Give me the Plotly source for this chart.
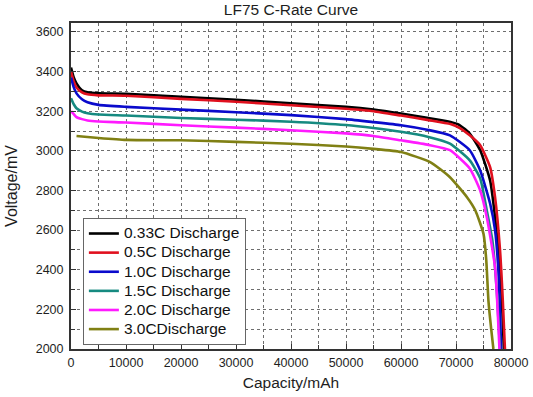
import plotly.graph_objects as go

# Capacity (mAh) / Voltage (mV)
cap_033 = [0, 500, 1000, 2000, 3000, 5000, 10000, 20000, 30000, 40000, 50000, 55000, 60000, 65000, 69000, 70700, 72500, 74400, 76200, 77100, 78000, 78500, 78700]
v_033 = [3420, 3370, 3340, 3305, 3295, 3290, 3288, 3273, 3258, 3240, 3222, 3208, 3188, 3165, 3145, 3129, 3087, 3003, 2850, 2665, 2400, 2150, 2000]

cap_05 = [0, 500, 1000, 2000, 3000, 5000, 10000, 20000, 30000, 40000, 50000, 55000, 60000, 65000, 69000, 70700, 72500, 74400, 76200, 77100, 78000, 78500, 78900]
v_05 = [3400, 3350, 3320, 3295, 3285, 3280, 3278, 3262, 3248, 3230, 3212, 3200, 3178, 3155, 3135, 3115, 3078, 3028, 2918, 2766, 2500, 2250, 2000]

cap_10 = [0, 500, 1000, 2000, 3000, 5000, 10000, 20000, 30000, 40000, 50000, 55000, 60000, 65000, 68900, 72500, 74400, 76200, 77100, 77700, 78000, 78200]
v_10 = [3370, 3320, 3290, 3260, 3245, 3232, 3222, 3208, 3195, 3180, 3160, 3145, 3129, 3105, 3078, 3003, 2901, 2734, 2600, 2400, 2200, 2000]

cap_15 = [0, 500, 1000, 2000, 3000, 5000, 10000, 20000, 30000, 40000, 50000, 55000, 60000, 65000, 68900, 72500, 74400, 75600, 76600, 77400, 78000]
v_15 = [3265, 3235, 3215, 3198, 3190, 3183, 3178, 3166, 3157, 3147, 3130, 3115, 3096, 3070, 3036, 2952, 2861, 2699, 2550, 2300, 2000]

cap_20 = [0, 500, 1000, 2000, 3000, 5000, 10000, 20000, 30000, 40000, 50000, 55000, 60000, 65000, 68900, 72500, 74400, 75600, 77100, 77900]
v_20 = [3200, 3185, 3170, 3160, 3153, 3148, 3143, 3129, 3117, 3104, 3088, 3075, 3053, 3030, 3003, 2911, 2800, 2665, 2412, 2000]

cap_30 = [1000, 5000, 10000, 20000, 30000, 40000, 50000, 55000, 60000, 65300, 68900, 72000, 73500, 75000, 75500, 75900, 76400, 76800]
v_30 = [3075, 3065, 3055, 3053, 3045, 3036, 3022, 3010, 2994, 2943, 2867, 2766, 2700, 2581, 2450, 2243, 2100, 2000]

series_names = ["0.33C Discharge", "0.5C Discharge", "1.0C Discharge", "1.5C Discharge", "2.0C Discharge", "3.0CDischarge"]
series_colors = ["#000000", "#e0101e", "#0a0acc", "#168a80", "#ff1aff", "#808014"]
x_ticks = [0, 10000, 20000, 30000, 40000, 50000, 60000, 70000, 80000]
y_ticks = [2000, 2200, 2400, 2600, 2800, 3000, 3200, 3400, 3600]

caps = [cap_033, cap_05, cap_10, cap_15, cap_20, cap_30]
volts = [v_033, v_05, v_10, v_15, v_20, v_30]

fig = go.Figure()
for c, v, n, col in zip(caps, volts, series_names, series_colors):
    fig.add_trace(go.Scatter(x=c, y=v, mode="lines",
                             name='<span style="font-size:15.5px">' + n + '</span>',
                             line=dict(color=col, width=2.6, shape="spline", smoothing=0.5)))

font_family = "Liberation Sans, Arial, sans-serif"
grid_col = "#6e6e6e"
text_col = "#1e1e1e"
fig.update_layout(
    width=533, height=397,
    margin=dict(l=71, r=22, t=23, b=48),
    paper_bgcolor="white", plot_bgcolor="white",
    font=dict(family=font_family, color=text_col, size=12.5),
    title=dict(text="LF75 C-Rate Curve", xref="paper", x=0.5, xanchor="center",
               yref="container", y=0.975, yanchor="middle",
               font=dict(size=15.5, color=text_col)),
    showlegend=True,
    legend=dict(x=0.027, y=0.402, xanchor="left", yanchor="top",
                bgcolor="white", bordercolor="#666666", borderwidth=1,
                font=dict(size=12.4, color="#111111"), tracegroupgap=0,
                itemwidth=30),
)
fig.update_xaxes(
    range=[0, 80000], tickvals=x_ticks, tickformat="d", automargin=False,
    title=dict(text="Capacity/mAh", font=dict(size=15.5), standoff=8),
    showline=True, linecolor="#333333", linewidth=2, mirror=True,
    ticks="inside", ticklen=5, tickcolor="#333333", ticklabelstandoff=1,
    showgrid=True, gridcolor=grid_col, griddash="dot", gridwidth=1,
    minor=dict(dtick=5000, tick0=0, showgrid=True, gridcolor=grid_col, griddash="dot", ticks="inside", ticklen=4),
    zeroline=False,
)
fig.update_yaxes(
    range=[2000, 3645], tickvals=y_ticks, tickformat="d", automargin=False,
    title=dict(text="Voltage/mV", font=dict(size=16), standoff=14),
    showline=True, linecolor="#333333", linewidth=2, mirror=True,
    ticks="inside", ticklen=5, tickcolor="#333333", ticklabelstandoff=3,
    showgrid=True, gridcolor=grid_col, griddash="dot", gridwidth=1,
    minor=dict(dtick=100, tick0=2000, showgrid=True, gridcolor=grid_col, griddash="dot", ticks="inside", ticklen=4),
    zeroline=False,
)

fig.write_html("out.html",
               config={"displayModeBar": False},
               post_script="document.body.style.margin='0';document.body.style.overflow='hidden';")
